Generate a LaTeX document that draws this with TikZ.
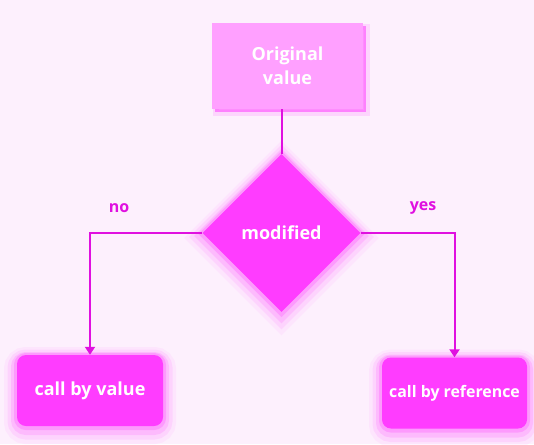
\documentclass[tikz,border=0pt]{standalone}
\usepackage{fontspec}
\setmainfont{Open Sans}
\usetikzlibrary{arrows.meta,positioning,shapes.geometric}
\definecolor{bg}{HTML}{FDF0FD}
\definecolor{lite}{HTML}{FFA0FF}
\definecolor{hot}{HTML}{FF3CFF}
\definecolor{wire}{HTML}{E010E0}

\begin{document}
\begin{tikzpicture}[x=1pt,y=-1pt,font=\bfseries,
  glow/.style={preaction={draw=hot,line width=26pt,opacity=.06,transform canvas={yshift=-5pt}},
               preaction={draw=hot,line width=19pt,opacity=.1,transform canvas={yshift=-4pt}},
               preaction={draw=hot,line width=12pt,opacity=.16,transform canvas={yshift=-3pt}},
               preaction={draw=hot,line width=6pt,opacity=.25,transform canvas={yshift=-1pt}}},
  top/.style={fill=lite,text=white,align=center,minimum width=151pt,minimum height=86pt,
              inner sep=0pt,font=\fontsize{18}{24}\selectfont\bfseries,
              preaction={draw=hot,line width=6pt,opacity=.15,transform canvas={shift={(4pt,-4pt)}}},
              preaction={fill=hot,opacity=.55,transform canvas={shift={(3pt,-3pt)}}}},
  ask/.style={diamond,aspect=1,fill=hot,text=white,minimum width=158pt,minimum height=158pt,
              inner sep=0pt,font=\fontsize{18}{20}\selectfont\bfseries,glow},
  leaf/.style={rounded corners=9pt,fill=hot,text=white,minimum height=71pt,inner sep=0pt,glow},
  lab/.style={text=wire,font=\fontsize{16}{18}\selectfont\bfseries},
  w/.style={-{Triangle[length=8pt,width=10pt]},wire,line width=2pt}]
  \fill[bg] (0,0) rectangle (534,444);
  \useasboundingbox (0,0) rectangle (534,444);
  \node[top] (orig) at (287.5,66) {Original\\value};
  \node[ask] (modif) at (281.5,233) {modified};
  \node[leaf,minimum width=146pt,font=\fontsize{18}{20}\selectfont\bfseries] (cbv) at (90,390.5) {call by value};
  \node[leaf,minimum width=145pt,font=\fontsize{15.9}{18}\selectfont\bfseries] (cbr) at (454.5,393) {call by reference};
  \node[lab] (no) at (119,208) {no};
  \node[lab] (yes) at (423,208) {yes};
  \draw[wire,line width=2pt] (orig.south -| modif.north) -- (modif.north);
  \draw[w] (modif.west) -| (cbv.north);
  \draw[w] (modif.east) -| (cbr.north);
\end{tikzpicture}
\end{document}
